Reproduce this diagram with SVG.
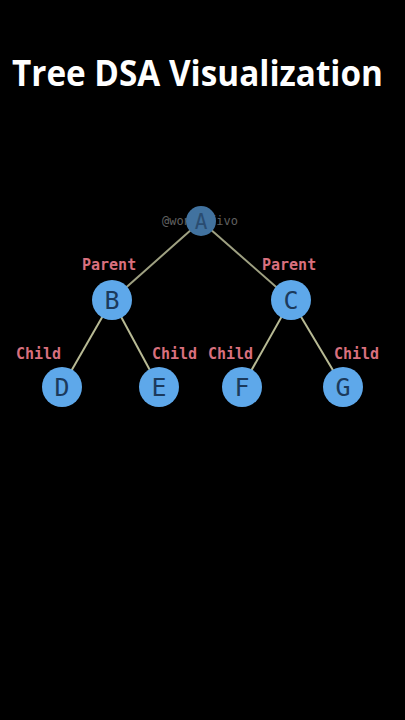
<svg xmlns="http://www.w3.org/2000/svg" width="405" height="720" viewBox="0 0 405 720">
<style>
.title{font-family:"Open Sans","Noto Sans",sans-serif;font-weight:bold;font-size:35px;fill:#ffffff}
.edge{stroke:#b8ba94;stroke-width:2;fill:none}
.edge-top{stroke:#9fa182;stroke-width:2;fill:none}
.node{fill:#5ea8ea}
.lbl{font-family:"DejaVu Sans Mono","Liberation Mono",monospace;font-size:25px;fill:#1b3a5c;text-anchor:middle}
.tag{font-family:"DejaVu Sans Mono","Liberation Mono",monospace;font-weight:bold;font-size:15px;fill:#d9707e}
.wm{font-family:"DejaVu Sans Mono","Liberation Mono",monospace;font-size:12px;fill:#606060}
</style>
<rect width="405" height="720" fill="#000000"/>
<text class="title" x="12" y="86" textLength="371" lengthAdjust="spacingAndGlyphs">Tree DSA Visualization</text>
<text class="wm" x="162" y="225">@won</text>
<text class="wm" x="209" y="225">fivo</text>
<g id="connectors">
<line class="edge-top" x1="201" y1="221" x2="112" y2="300"/>
<line class="edge-top" x1="201" y1="221" x2="291" y2="300"/>
<line class="edge" x1="112" y1="300" x2="62" y2="387"/>
<line class="edge" x1="112" y1="300" x2="159" y2="387"/>
<line class="edge" x1="291" y1="300" x2="242" y2="387"/>
<line class="edge" x1="291" y1="300" x2="343" y2="387"/>
</g>
<g id="node-A">
<circle cx="201" cy="221" r="15" fill="#41729f"/>
<text class="lbl" x="201" y="229" style="font-size:21px;fill:#2a4c70">A</text>
</g>
<g id="node-B">
<circle class="node" cx="112" cy="300" r="20"/>
<text class="lbl" x="112" y="309">B</text>
<text class="tag" x="82" y="270">Parent</text>
</g>
<g id="node-C">
<circle class="node" cx="291" cy="300" r="20"/>
<text class="lbl" x="291" y="309">C</text>
<text class="tag" x="262" y="270">Parent</text>
</g>
<g id="node-D">
<circle class="node" cx="62" cy="387" r="20"/>
<text class="lbl" x="62" y="396">D</text>
<text class="tag" x="16" y="359">Child</text>
</g>
<g id="node-E">
<circle class="node" cx="159" cy="387" r="20"/>
<text class="lbl" x="159" y="396">E</text>
<text class="tag" x="152" y="359">Child</text>
</g>
<g id="node-F">
<circle class="node" cx="242" cy="387" r="20"/>
<text class="lbl" x="242" y="396">F</text>
<text class="tag" x="208" y="359">Child</text>
</g>
<g id="node-G">
<circle class="node" cx="343" cy="387" r="20"/>
<text class="lbl" x="343" y="396">G</text>
<text class="tag" x="334" y="359">Child</text>
</g>
</svg>
